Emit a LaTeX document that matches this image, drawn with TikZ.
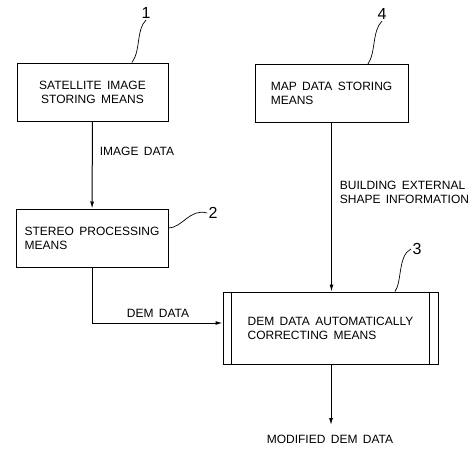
\documentclass[tikz,border=0pt]{standalone}
\usepackage{fontspec}
\setmainfont{Liberation Sans}
\usetikzlibrary{arrows.meta}
\newcommand\widespace{\spaceskip=0.45em\relax}
\begin{document}
\begin{tikzpicture}[x=1pt,y=-1pt,line width=1pt,
  font=\fontsize{12}{14}\selectfont\widespace,
  box/.style={draw,inner ysep=0pt,minimum height=58pt},
  tag/.style={font=\fontsize{16}{16}\selectfont,inner sep=1pt},
  lead/.style={line width=0.7pt},
  flow/.style={-{Latex[length=7pt,width=4pt]}}]
\useasboundingbox (0,0) rectangle (474,450);

%boxes
\node[box,minimum width=151pt,align=center] (sat) at (92.5,92) {SATELLITE IMAGE\\STORING MEANS};
\node[box,minimum width=152pt,align=left] (stereo) at (92,238) {STEREO PROCESSING\\MEANS};
\node[box,minimum width=153pt,align=left] (map) at (331.5,93.5) {MAP DATA STORING\\MEANS};
\node[box,minimum height=72pt,minimum width=215pt,align=left] (dem) at (330.5,328) {DEM DATA AUTOMATICALLY\\CORRECTING MEANS};
%side bars of box 3
\draw ([xshift=9pt]dem.north west) -- ([xshift=9pt]dem.south west);
\draw ([xshift=-9pt]dem.north east) -- ([xshift=-9pt]dem.south east);

%reference numbers and leaders
\node[tag] (n1) at (146,13) {1};
\node[tag] (n2) at (213,213) {2};
\node[tag] (n3) at (417,249) {3};
\node[tag] (n4) at (382,14) {4};
\draw[lead] (n1.south) .. controls (136,30) and (141,50) .. (sat.north -| 132,0);
\draw[lead] (n4.south) .. controls (372,31) and (376,52) .. (map.north -| 368,0);
\draw[lead] (stereo.east |- 0,228) .. controls (182,228) and (190,208) .. (n2.west);
\draw[lead] (dem.north -| 395,0) .. controls (402,282) and (398,255) .. (n3.west);

%connectors
\coordinate (out) at (331,425);
\draw[flow] (sat) -- (stereo);
\draw[flow] (map.south) -- (map.south |- dem.north);
\draw[flow] (stereo.south) |- ([yshift=5pt]dem.west);
\draw[flow] (dem.south -| out) -- (out);

%data labels
\node[anchor=west] (img) at (96,151) {IMAGE DATA};
\node (demd) at (158,313) {DEM DATA};
\node[anchor=west,align=left] (bld) at (336,192) {BUILDING EXTERNAL\\SHAPE INFORMATION};
\node (mod) at (330,439) {MODIFIED DEM DATA};
\end{tikzpicture}
\end{document}
